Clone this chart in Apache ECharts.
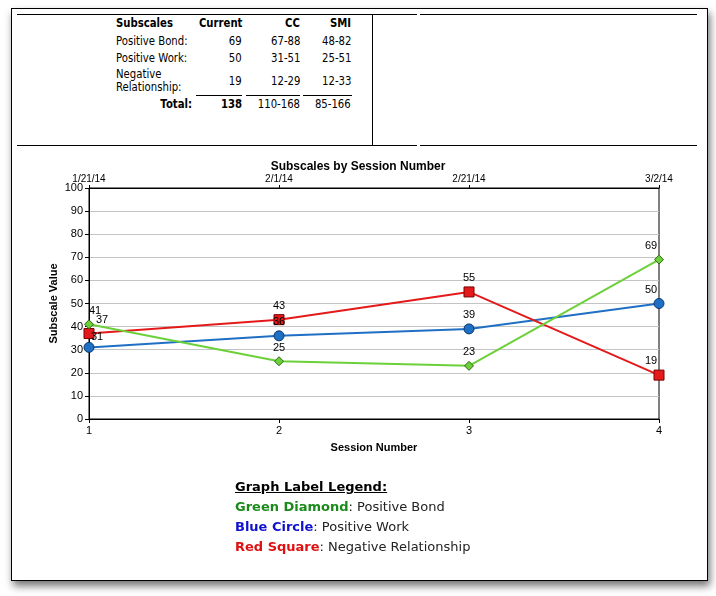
<!DOCTYPE html>
<html>
<head>
<meta charset="utf-8">
<script src="https://cdn.jsdelivr.net/npm/echarts@6/dist/echarts.min.js"></script>
<style>
  body { margin: 0; background: #fff; width: 716px; height: 596px; position: relative; overflow: hidden; }
  .frame { position: absolute; left: 11px; top: 8px; width: 695px; height: 571px; border: 1px solid #000;
           box-shadow: 2px 5px 8px rgba(0,0,0,0.55); background: #fff; }
  .hl { position: absolute; height: 1px; background: #000; }
  .vl { position: absolute; width: 1px; background: #000; }
  .cell { position: absolute; font-family: "DejaVu Sans", Verdana, sans-serif; font-size: 11.5px; color: #000; line-height: 13px; white-space: nowrap; transform-origin: left; }
  .b { font-weight: bold; }
  .legend { position: absolute; left: 235px; top: 477px; font-family: "DejaVu Sans", Verdana, sans-serif; font-size: 13px; line-height: 20px; color: #222; }
  #chart { position: absolute; left: 0; top: 0; width: 716px; height: 596px; }
</style>
</head>
<body>
<div class="frame"></div>
<div class="hl" style="left:17px; top:14px; width:400px;"></div>
<div class="hl" style="left:420px; top:14px; width:277px;"></div>
<div class="hl" style="left:17px; top:145px; width:400px;"></div>
<div class="hl" style="left:420px; top:145px; width:277px;"></div>
<div class="vl" style="left:372px; top:14px; height:131px;"></div>
<div id="table"></div>
<div id="chart"></div>
<div class="legend">
  <div class="b" style="text-decoration: underline; color:#000;">Graph Label Legend:</div>
  <div><span class="b" style="color:#1a8a1a;">Green Diamond</span>: Positive Bond</div>
  <div><span class="b" style="color:#1010d0;">Blue Circle</span>: Positive Work</div>
  <div><span class="b" style="color:#e01010;">Red Square</span>: Negative Relationship</div>
</div>
<script>
// table data
const subscaleNames = ['Positive Bond:', 'Positive Work:', 'Negative<br>Relationship:'];
const currentScores = [69, 50, 19];
const ccRanges = ['67-88', '31-51', '12-29'];
const smiRanges = ['48-82', '25-51', '12-33'];
const totals = ['138', '110-168', '85-166'];

// chart data
const sessions = ['1', '2', '3', '4'];
const sessionDates = ['1/21/14', '2/1/14', '2/21/14', '3/2/14'];
const positiveBond = [41, 25, 23, 69];
const positiveWork = [31, 36, 39, 50];
const negativeRelationship = [37, 43, 55, 19];

// build table (Verdana-ish text squeezed a bit to Tahoma widths)
const tbl = document.getElementById('table');
const colRight = [242, 300, 351];
function cell(html, x, y, right, bold) {
    const d = document.createElement('div');
    d.className = 'cell' + (bold ? ' b' : '');
    d.innerHTML = html;
    d.style.top = (y - 6) + 'px';
    if (right) {
        d.style.right = (716 - x) + 'px'; d.style.textAlign = 'right';
        d.style.transformOrigin = 'right'; d.style.transform = 'scaleX(0.88)';
    } else {
        d.style.left = x + 'px'; d.style.transform = 'scaleX(0.88)';
    }
    tbl.appendChild(d);
}
cell('Subscales', 116, 23, false, true);
cell('Current', colRight[0], 23, true, true);
cell('CC', colRight[1], 23, true, true);
cell('SMI', colRight[2], 23, true, true);
const rowY = [41, 58, 81];
subscaleNames.forEach((n, i) => {
    cell(n, 116, i == 2 ? 74 : rowY[i], false, false);
    cell(String(currentScores[i]), colRight[0], rowY[i], true);
    cell(ccRanges[i], colRight[1], rowY[i], true);
    cell(smiRanges[i], colRight[2], rowY[i], true);
});
cell('Total:', 192, 104, true, true);
cell(totals[0], colRight[0], 104, true, true);
cell(totals[1], colRight[1], 104, true);
cell(totals[2], colRight[2], 104, true);
[[196, 46], [246, 54], [303, 49]].forEach(s => {
    const l = document.createElement('div');
    l.className = 'hl';
    l.style.left = s[0] + 'px'; l.style.top = '95px'; l.style.width = s[1] + 'px';
    tbl.appendChild(l);
});

// label offsets at the edges so the numbers stay inside
function withLabels(values, firstOffset) {
    return values.map((v, i) => {
        if (i == 0) return { value: v, label: { offset: firstOffset } };
        if (i == values.length - 1) return { value: v, label: { offset: [-8, 0] } };
        return v;
    });
}

const chart = echarts.init(document.getElementById('chart'));
const font = '"Liberation Sans", Arial, sans-serif';
const labelStyle = { show: true, position: 'top', distance: 3, color: '#000', fontSize: 11, fontFamily: font };

chart.setOption({
    animation: false,
    title: {
        text: 'Subscales by Session Number',
        left: 'center', top: 156,
        textStyle: { fontSize: 12, fontWeight: 'bold', fontFamily: font, color: '#000' }
    },
    grid: { left: 89, top: 188, right: 57, bottom: 177, show: true, borderColor: '#000', borderWidth: 1 },
    xAxis: [
        {
            type: 'category', data: sessions, boundaryGap: false, position: 'bottom',
            name: 'Session Number', nameLocation: 'middle', nameGap: 23,
            nameTextStyle: { fontSize: 11, fontWeight: 'bold', fontFamily: font, color: '#000' },
            axisLine: { lineStyle: { color: '#000' } },
            axisTick: { show: true, length: 4, lineStyle: { color: '#000' } },
            axisLabel: { fontSize: 11, fontFamily: font, color: '#000', margin: 6 },
            splitLine: { show: false }
        },
        {
            type: 'category', data: sessionDates, boundaryGap: false, position: 'top',
            axisLine: { lineStyle: { color: '#000' } },
            axisTick: { show: true, length: 3, lineStyle: { color: '#000' } },
            axisLabel: { fontSize: 10, fontFamily: font, color: '#000', margin: 4 },
            splitLine: { show: false }
        }
    ],
    yAxis: {
        type: 'value', min: 0, max: 100, interval: 10,
        name: 'Subscale Value', nameLocation: 'middle', nameGap: 30, nameMoveOverlap: false,
        nameTextStyle: { fontSize: 11, fontWeight: 'bold', fontFamily: font, color: '#000' },
        axisLine: { show: true, lineStyle: { color: '#000' } },
        axisTick: { show: true, length: 4, lineStyle: { color: '#000' } },
        axisLabel: { fontSize: 11, fontFamily: font, color: '#000', margin: 6 },
        splitLine: { show: true, lineStyle: { color: '#c4c4c4' } }
    },
    series: [
        {
            name: 'Positive Work', type: 'line', data: withLabels(positiveWork, [8, 4]),
            symbol: 'circle', symbolSize: 10,
            lineStyle: { color: '#1f6fc4', width: 2 },
            itemStyle: { color: '#1f6fc4', borderColor: '#0b3870', borderWidth: 1 },
            label: labelStyle
        },
        {
            name: 'Negative Relationship', type: 'line', data: withLabels(negativeRelationship, [13, 0]),
            symbol: 'rect', symbolSize: 10,
            lineStyle: { color: '#e41a1a', width: 2 },
            itemStyle: { color: '#e41a1a', borderColor: '#7a0000', borderWidth: 1 },
            label: labelStyle
        },
        {
            name: 'Positive Bond', type: 'line', data: withLabels(positiveBond, [6, 0]),
            symbol: 'diamond', symbolSize: 9,
            lineStyle: { color: '#6cd03a', width: 2 },
            itemStyle: { color: '#6cd03a', borderColor: '#2d6610', borderWidth: 1 },
            label: labelStyle
        }
    ]
});
</script>
</body>
</html>
